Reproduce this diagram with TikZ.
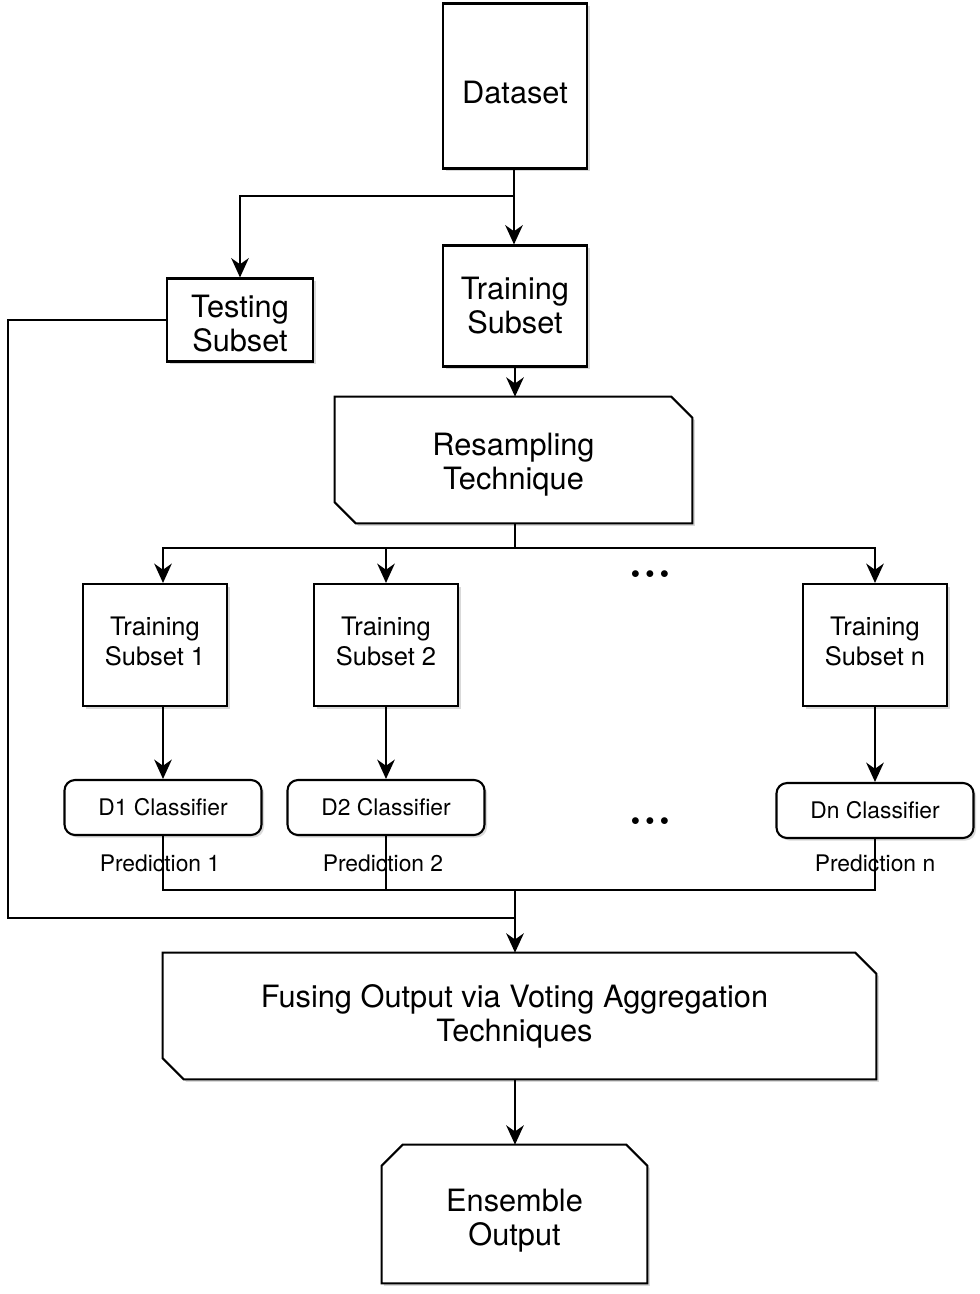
\documentclass[tikz,border=0pt]{standalone}
\usepackage{fontspec}
\setmainfont{TeX Gyre Heros}
\usetikzlibrary{calc,arrows.meta,shadows}
\pgfdeclarelayer{background}
\pgfsetlayers{background,main}

\tikzset{
	shade/.style={drop shadow={shadow xshift=0.05cm, shadow yshift=-0.05cm, opacity=0.25, fill=black!60}},
	box/.style={draw, line width=1.2pt, fill=white, align=center, inner sep=0pt, shade},
	outline/.style={draw, line width=1.2pt, fill=white, shade},
	plain/.style={align=center, inner sep=0pt},
	bigtext/.style={font=\fontsize{17.5}{19.3}\selectfont},
	midtext/.style={font=\fontsize{14.5}{17}\selectfont},
	smalltext/.style={font=\fontsize{13}{15}\selectfont},
	link/.style={line width=1.1pt},
	arr/.style={link, -{Stealth[length=11pt, width=10pt, inset=3.5pt]}},
}
\def\cut{0.42}
% box with the north east and south west corners cut off
\def\cutbox#1{\draw[outline] (#1.north west) -- ($(#1.north east)+(-\cut,0)$) -- ($(#1.north east)+(0,-\cut)$) -- (#1.south east) -- ($(#1.south west)+(\cut,0)$) -- ($(#1.south west)+(0,\cut)$) -- cycle;}

\begin{document}
\begin{tikzpicture}
			%%%%% START %%%%%
			\useasboundingbox (0, 0) rectangle (19.6, -25.88);
			
			\node[box, minimum width=2.88cm, minimum height=3.30cm,
				label={[bigtext, yshift=-0.14cm]center:Dataset}] (dataset) at (10.30, -1.72) {};
			\node[box, bigtext, minimum width=2.88cm, minimum height=2.42cm] (train) at (10.30, -6.12) {Training\\Subset};
			\node[box, minimum width=2.92cm, minimum height=1.66cm,
				label={[bigtext, align=center, yshift=-0.08cm]center:Testing\\Subset}] (test) at (4.80, -6.40) {};
			\node[plain, minimum width=7.14cm, minimum height=2.52cm,
				label={[bigtext, align=center, yshift=-0.10cm]center:Resampling\\Technique}] (resamp) at (10.27, -9.20) {};
			
			\node[box, minimum width=2.88cm, minimum height=2.44cm,
				label={[midtext, align=center, yshift=0.08cm]center:Training\\Subset 1}] (ts1) at (3.10, -12.90) {};
			\node[box, minimum width=2.88cm, minimum height=2.44cm,
				label={[midtext, align=center, yshift=0.08cm]center:Training\\Subset 2}] (ts2) at (7.72, -12.90) {};
			\node[box, minimum width=2.88cm, minimum height=2.44cm,
				label={[midtext, align=center, yshift=0.08cm]center:Training\\Subset n}] (tsn) at (17.50, -12.90) {};
			
			\node[box, smalltext, rounded corners=6pt, minimum width=3.94cm, minimum height=1.10cm] (d1) at (3.26, -16.15) {D1 Classifier};
			\node[box, smalltext, rounded corners=6pt, minimum width=3.94cm, minimum height=1.10cm] (d2) at (7.72, -16.15) {D2 Classifier};
			\node[box, smalltext, rounded corners=6pt, minimum width=3.94cm, minimum height=1.10cm] (dn) at (17.50, -16.21) {Dn Classifier};
			
			\node[smalltext] (p1) at (3.20, -17.26) {Prediction 1};
			\node[smalltext] (p2) at (7.66, -17.26) {Prediction 2};
			\node[smalltext] (pn) at (17.50, -17.26) {Prediction n};
			
			\node (dots1) at (13.0, -11.50) {$\bullet\hspace{1pt}\bullet\hspace{1pt}\bullet$};
			\node (dots2) at (13.0, -16.44) {$\bullet\hspace{1pt}\bullet\hspace{1pt}\bullet$};
			
			\node[plain, minimum width=14.26cm, minimum height=2.52cm,
				label={[bigtext, align=center, xshift=-0.10cm]center:Fusing Output via Voting Aggregation\\Techniques}] (fuse) at (10.39, -20.32) {};
			\node[plain, minimum width=5.30cm, minimum height=2.76cm,
				label={[bigtext, align=center, yshift=-0.14cm]center:Ensemble\\Output}] (ens) at (10.29, -24.28) {};
			
			% cut corner outlines
			\begin{pgfonlayer}{background}
				\cutbox{resamp}
				\cutbox{fuse}
				\draw[outline] ($(ens.north west)+(\cut,0)$) -- ($(ens.north east)+(-\cut,0)$) -- ($(ens.north east)+(0,-\cut)$) -- (ens.south east) -- (ens.south west) -- ($(ens.north west)+(0,-\cut)$) -- cycle;
			\end{pgfonlayer}
			
			% top split
			\coordinate (fork) at (10.28, -3.92);
			\draw[link] (fork |- dataset.south) -- (fork);
			\draw[arr] (fork) -- (fork |- train.north);
			\draw[arr] (fork) -| (test.north);
			\draw[arr] (train.south) -- (train.south |- resamp.north);
			
			% resampled subsets
			\coordinate (split) at (10.30, -10.96);
			\draw[link] (split |- resamp.south) -- (split);
			\draw[arr] (split) -| (d1.north |- ts1.north);
			\draw[arr] (split) -| (d2.north |- ts2.north);
			\draw[arr] (split) -| (dn.north |- tsn.north);
			
			\draw[arr] (d1.north |- ts1.south) -- (d1.north);
			\draw[arr] (d2.north |- ts2.south) -- (d2.north);
			\draw[arr] (dn.north |- tsn.south) -- (dn.north);
			
			% predictions
			\coordinate (join) at (10.30, -17.80);
			\draw[link] (d1.south) |- (dn.south |- join) -- (dn.south);
			\draw[link] (d2.south) -- (d2.south |- join);
			\coordinate (bend) at (0.16, -18.36);
			\draw[link] (test.west) -| (bend) -- (bend -| join);
			\draw[arr] (join) -- (join |- fuse.north);
			
			\draw[arr] (fuse.south -| join) -- (join |- ens.north);
			%%%%% END %%%%%
\end{tikzpicture}
\end{document}
